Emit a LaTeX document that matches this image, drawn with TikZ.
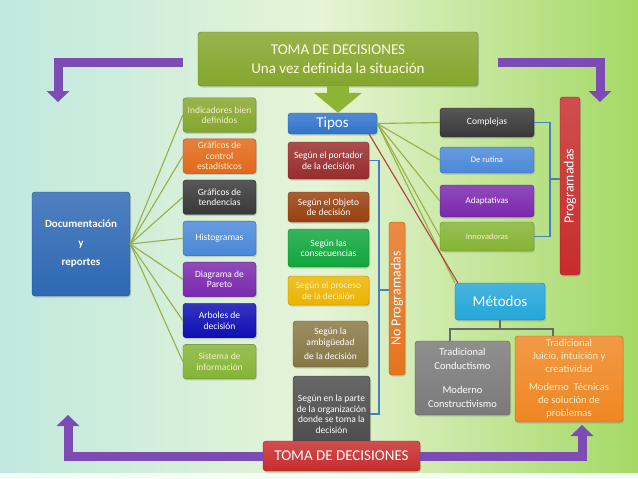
\documentclass[tikz,border=0pt]{standalone}
\usepackage{fontspec}
\setmainfont{Carlito}
\usepackage{xcolor}
\usetikzlibrary{arrows.meta, positioning, shadows}

\definecolor{fondoizq}{HTML}{C0E9DF}
\definecolor{fondomed}{HTML}{E6F4D6}
\definecolor{fondoder}{HTML}{A4D964}
\definecolor{olivo}{HTML}{84A62C}
\definecolor{naranja}{HTML}{E2681A}
\definecolor{grisosc}{HTML}{383838}
\definecolor{azulclaro}{HTML}{4A88D8}
\definecolor{morado}{HTML}{7A28AE}
\definecolor{azulosc}{HTML}{0E0EB4}
\definecolor{verdeclaro}{HTML}{84B434}
\definecolor{azuldoc}{HTML}{2E68B4}
\definecolor{azultipos}{HTML}{3074CA}
\definecolor{rojooscuro}{HTML}{982C2C}
\definecolor{marron}{HTML}{98400E}
\definecolor{verde}{HTML}{10A63C}
\definecolor{amarillo}{HTML}{ECB400}
\definecolor{caqui}{HTML}{887846}
\definecolor{gris}{HTML}{4A4A4A}
\definecolor{naranjabar}{HTML}{E67420}
\definecolor{rojo}{HTML}{C82C2C}
\definecolor{cian}{HTML}{24A6D8}
\definecolor{grismedio}{HTML}{7A7A7A}
\definecolor{naranjaclaro}{HTML}{F08622}
\definecolor{purpura}{HTML}{7C4CB4}
\definecolor{flecha}{HTML}{8EB436}
\definecolor{lineaverde}{HTML}{98AE46}
\definecolor{linearoja}{HTML}{B83A3A}
\definecolor{lineaazul}{HTML}{4A7EC2}
\definecolor{palido}{HTML}{F6F0C6}

\begin{document}
\begin{tikzpicture}[
			x=1pt, y=-1pt,
			box/.style={rounded corners=3pt, align=center, text=white, inner sep=1.5pt,
				font=\fontsize{9.5}{10.5}\selectfont,
				drop shadow={shadow xshift=1pt, shadow yshift=-1.5pt, opacity=0.3}},
			gloss/.style={top color=#1!84!white, bottom color=#1, draw=#1!75!black, line width=0.4pt},
			leftbox/.style={box, minimum width=73pt, minimum height=34.5pt},
			midbox/.style={box, minimum width=81pt},
			rightbox/.style={box, minimum width=94pt},
			bar/.style={box, rotate=90, inner sep=1pt, font=\fontsize{14}{16}\selectfont},
			bigtext/.style={font=\fontsize{15}{19}\selectfont},
			link/.style={draw=lineaverde, line width=1.1pt},
			redlink/.style={draw=linearoja, line width=1.1pt},
			bracket/.style={draw=lineaazul, line width=1.3pt},
			graybracket/.style={draw=grismedio!85!black, line width=1.6pt},
			bigarrow/.style={draw=flecha, line width=22pt, -{Triangle[width=48pt,length=20pt,line width=0pt]}},
			purplearrow/.style={draw=purpura, line width=9pt, -{Triangle[width=23pt,length=11pt,line width=0pt]}}
			]
			
			% Background
			\shade[left color=fondoizq, right color=fondoder, middle color=fondomed] (0,0) rectangle (638,479);
			\fill[white!95!green] (0,473) rectangle (638,479);
			\useasboundingbox (0,0) rectangle (638,479);
			
			% Nodes
			\node[box, gloss=olivo, bigtext, minimum width=280pt, minimum height=54pt, text=white!90!yellow] (top_box) at (338,59) {TOMA DE DECISIONES\\Una vez definida la situación};
			\node[box, gloss=azuldoc, minimum width=98pt, minimum height=104pt, font=\bfseries\fontsize{11}{19}\selectfont] (doc) at (81,244) {Documentación\\y\\reportes};
			
			\node[leftbox, gloss=olivo, text=palido] (indicadores) at (219.5,115) {Indicadores bien\\definidos};
			\node[leftbox, gloss=naranja, text=palido, below=6.2pt of indicadores] (control) {Gráficos de\\control\\estadísticos};
			\node[leftbox, gloss=grisosc, below=6.2pt of control] (tendencias) {Gráficos de\\tendencias};
			\node[leftbox, gloss=azulclaro, below=6.2pt of tendencias] (histogramas) {Histogramas};
			\node[leftbox, gloss=morado, below=6.2pt of histogramas] (pareto) {Diagrama de\\Pareto};
			\node[leftbox, gloss=azulosc, below=6.2pt of pareto] (arboles) {Arboles de\\decisión};
			\node[leftbox, gloss=verdeclaro, text=palido, below=6.2pt of arboles] (sistema) {Sistema de\\información};
			
			\node[box, gloss=azultipos, bigtext, minimum width=89pt, minimum height=21pt] (tipos) at (332.5,123.5) {Tipos};
			\node[midbox, gloss=rojooscuro, minimum height=37pt] (portador) at (328.5,160.5) {Según el portador\\de la decisión};
			\node[midbox, gloss=marron, minimum height=30pt] (objeto) at (328.5,207) {Según el Objeto\\de decisión};
			\node[midbox, gloss=verde, minimum height=38pt] (consecuencias) at (328.5,248) {Según las\\consecuencias};
			\node[midbox, gloss=amarillo, text=palido, minimum height=29pt] (proceso) at (328.5,290.5) {Según el proceso\\de la decisión};
			\node[box, gloss=caqui, minimum width=75pt, minimum height=46pt] (ambiguedad) at (330.5,344) {Según la\\ambigüedad\\[4pt]de la decisión};
			\node[box, gloss=gris, minimum width=77pt, minimum height=76pt] (organizacion) at (331.5,414) {Según en la parte\\de la organización\\donde se toma la\\decisión};
			\node[bar, gloss=naranjabar, minimum width=153pt, minimum height=16pt] (no_prog) at (397,298.5) {No Programadas};
			
			\node[rightbox, gloss=grisosc, minimum height=29pt] (complejas) at (487,122.5) {Complejas};
			\node[rightbox, gloss=azulclaro, minimum height=26pt, font=\fontsize{8.5}{10}\selectfont] (rutina) at (487,160) {De rutina};
			\node[rightbox, gloss=morado, minimum height=32pt, font=\fontsize{9}{10}\selectfont] (adaptativas) at (487,201) {Adaptativas};
			\node[rightbox, gloss=verdeclaro, text=palido, minimum height=29pt, font=\fontsize{8.5}{10}\selectfont] (innovadoras) at (487,236.5) {Innovadoras};
			\node[bar, gloss=rojo, minimum width=178pt, minimum height=20pt] (programadas) at (570,186) {Programadas};
			
			\node[box, gloss=cian, bigtext, minimum width=90pt, minimum height=37pt] (metodos) at (500,301.5) {Métodos};
			\node[box, gloss=grismedio, minimum width=95pt, minimum height=74pt, font=\fontsize{10.5}{13.5}\selectfont] (gris) at (462.5,378) {Tradicional\\Conductismo\\[11pt]Moderno\\Constructivismo};
			\node[box, gloss=naranjaclaro, text=palido, minimum width=108pt, minimum height=86pt, font=\fontsize{10.5}{13}\selectfont] (naranja) at (569,379) {Tradicional\\Juicio, intuición y\\creatividad\\[5pt]Moderno~~Técnicas\\de solución de\\problemas};
			
			\node[box, gloss=rojo, bigtext, minimum width=157pt, minimum height=30pt] (bottom_box) at (341.5,456) {TOMA DE DECISIONES};
			
			\coordinate (np_join) at (379,290);
			\coordinate (p_join) at (550,179);
			\coordinate (m_join) at (500,329);
			\coordinate (tl_start) at (183,62);
			\coordinate (tl_tip) at (58,102);
			\coordinate (tr_start) at (498,62);
			\coordinate (tr_tip) at (600,102);
			\coordinate (bl_tip) at (68,415);
			\coordinate (br_tip) at (582,425);
			
			% Connections
			\draw[bigarrow] (top_box.south) -- (top_box.south |- tipos.north);
			\draw[purplearrow] (tl_start) -| (tl_tip);
			\draw[purplearrow] (tr_start) -| (tr_tip);
			\draw[purplearrow] (bottom_box.west) -| (bl_tip);
			\draw[purplearrow] (bottom_box.east) -| (br_tip);
			
			\draw[link] (doc.east) -- (indicadores.west);
			\draw[link] (doc.east) -- (control.west);
			\draw[link] (doc.east) -- (tendencias.west);
			\draw[link] (doc.east) -- (histogramas.west);
			\draw[link] (doc.east) -- (pareto.west);
			\draw[link] (doc.east) -- (arboles.west);
			\draw[link] (doc.east) -- (sistema.west);
			
			\draw[link] (tipos.east) -- (complejas.west);
			\draw[link] (tipos.east) -- (rutina.west);
			\draw[link] (tipos.east) -- (adaptativas.west);
			\draw[link] (tipos.east) -- (innovadoras.west);
			\draw[link] (tipos.east) -- (metodos.north west);
			\draw[redlink] ([xshift=-8pt]tipos.south east) -- ([xshift=3pt]metodos.north west);
			
			\draw[bracket] (portador.east) -| (np_join) |- (organizacion.east);
			\draw[bracket] (np_join) -- (no_prog.north |- np_join);
			\draw[bracket] (complejas.east) -| (p_join) |- (innovadoras.east);
			\draw[bracket] (p_join) -- (programadas.north |- p_join);
			
			\draw[graybracket] (metodos.south) -- (m_join);
			\draw[graybracket] (m_join) -| ([xshift=35pt]gris.north west);
			\draw[graybracket] (m_join) -| ([xshift=38pt]naranja.north west);
			
		\end{tikzpicture}
\end{document}
